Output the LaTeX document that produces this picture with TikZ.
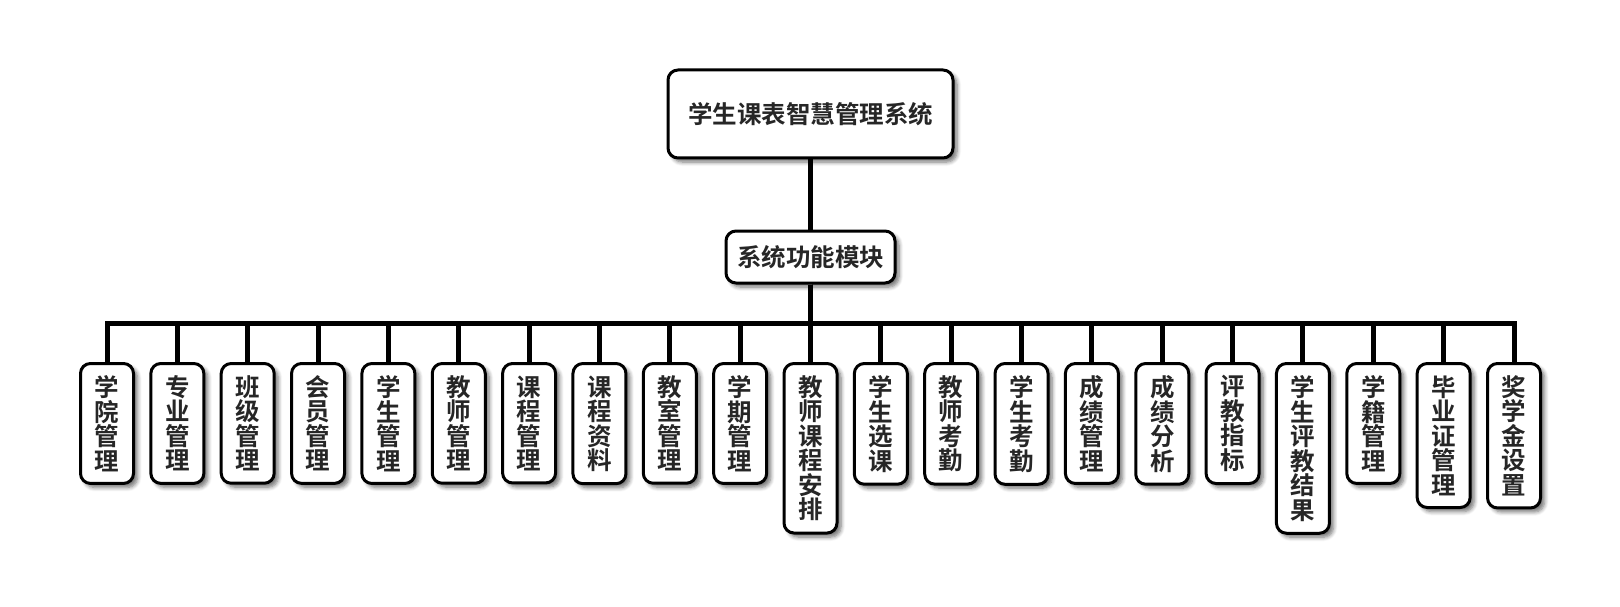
\documentclass[tikz,border=0pt]{standalone}
\usepackage{fontspec}
\newfontfamily\cjk{Noto Sans CJK SC Bold}
\usetikzlibrary{shadows.blur}
\tikzset{
  box/.style={draw=black, line width=3pt, rounded corners=10pt, fill=white,
    text=black!85, font=\cjk\fontsize{24.5}{24.5}\selectfont, align=center,
    blur shadow={shadow xshift=4pt, shadow yshift=-4pt, shadow blur steps=6, shadow blur radius=4pt, shadow opacity=55}},
  vbox/.style={box, anchor=north, minimum width=53pt, inner xsep=3pt, inner ysep=12pt},
  conn/.style={line width=5pt, draw=black},
}
\begin{document}
\begin{tikzpicture}[x=1pt,y=-1pt]
\useasboundingbox (0,0) rectangle (1620,607);
\node[box, minimum width=285pt, minimum height=88pt] (top) at (810.5,114) {学生课表智慧管理系统};
\node[box, minimum width=169pt, minimum height=52pt, inner sep=0pt] (mid) at (810.5,257) {系统功能模块};
\coordinate (bus) at (810.5,323);
\foreach \i/\t in {1/学\\院\\管\\理, 2/专\\业\\管\\理, 3/班\\级\\管\\理, 4/会\\员\\管\\理,
  5/学\\生\\管\\理, 6/教\\师\\管\\理, 7/课\\程\\管\\理, 8/课\\程\\资\\料,
  9/教\\室\\管\\理, 10/学\\期\\管\\理, 11/教\\师\\课\\程\\安\\排, 12/学\\生\\选\\课,
  13/教\\师\\考\\勤, 14/学\\生\\考\\勤, 15/成\\绩\\管\\理, 16/成\\绩\\分\\析,
  17/评\\教\\指\\标, 18/学\\生\\评\\教\\结\\果, 19/学\\籍\\管\\理, 20/毕\\业\\证\\管\\理,
  21/奖\\学\\金\\设\\置}{
  \node[vbox] (c\i) at ({107+(\i-1)*70.35},362) {\t};
}
\draw[conn] (top.south) -- (mid.north);
\foreach \i in {1,...,21}{
  \draw[conn] (mid.south) -- (mid.south |- bus) -| (c\i.north);
}
\end{tikzpicture}
\end{document}
